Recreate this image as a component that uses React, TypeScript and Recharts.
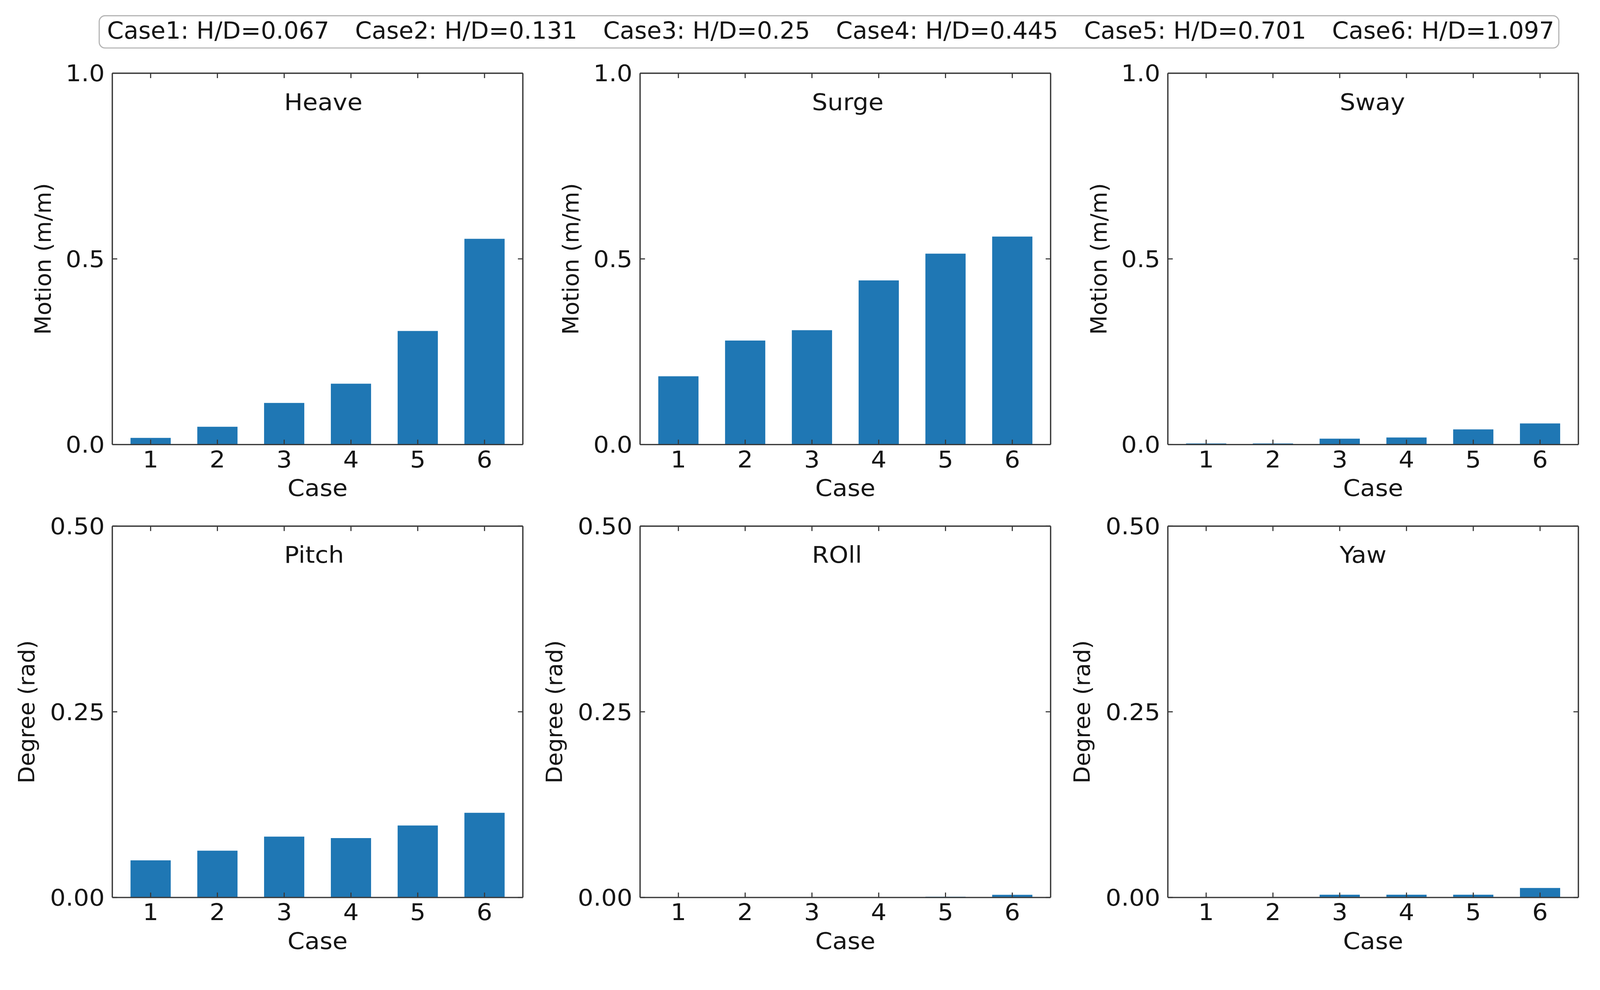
import React from 'react';
import { BarChart, Bar, XAxis, YAxis, Label } from 'recharts';

const cases = ['1', '2', '3', '4', '5', '6'];
const legendLabels = [
  'Case1: H/D=0.067',
  'Case2: H/D=0.131',
  'Case3: H/D=0.25',
  'Case4: H/D=0.445',
  'Case5: H/D=0.701',
  'Case6: H/D=1.097',
];

const heave = [0.018, 0.048, 0.112, 0.164, 0.306, 0.554];
const surge = [0.184, 0.28, 0.308, 0.442, 0.514, 0.56];
const sway = [0.003, 0.003, 0.016, 0.019, 0.041, 0.057];
const pitch = [0.05, 0.063, 0.082, 0.08, 0.097, 0.114];
const roll = [0.0002, 0.0002, 0.0003, 0.0005, 0.001, 0.0036];
const yaw = [0.0005, 0.0005, 0.0037, 0.0037, 0.0037, 0.0128];

const motionTicks = [0, 0.5, 1.0];
const motionTickLabels = ['0.0', '0.5', '1.0'];
const degreeTicks = [0, 0.25, 0.5];
const degreeTickLabels = ['0.00', '0.25', '0.50'];

const yLabelMotion = 'Motion (m/m)';
const yLabelDegree = 'Degree (rad)';
const xLabel = 'Case';

// layout (target pixels)
const W = 4217;
const H = 2535;
const PW = 1082;
const PH = 979;
const ML = 290;
const MT = 40;
const MR = 10;
const XH = 180;
const PAD = 13;
const BAND = (PW - 2 * PAD) / 6;
const FONT = 'DejaVu Sans, Verdana, sans-serif';
const FS = 60;
const SX = 1.08;
const FS_YLABEL = 59;
const FS_LEGEND = 63;
const TXT = '#151515';
const SPINE = '#3a3a3a';
const SW = 3.5;
const TL = 13;

function HText({ x, y, anchor, dy, children }: { x: number; y: number; anchor: string; dy?: string; children: any }) {
  return (
    <text
      transform={`translate(${x} ${y}) scale(${SX} 1)`}
      x={0}
      y={0}
      dy={dy}
      textAnchor={anchor as any}
      fontFamily={FONT}
      fontSize={FS}
      fill={TXT}
    >
      {children}
    </text>
  );
}

type PanelProps = {
  values: number[];
  title: string;
  ticks: number[];
  tickLabels: string[];
  yLabel: string;
  yLabelOffset: number;
  left: number;
  top: number;
};

function Panel({ values, title, ticks, tickLabels, yLabel, yLabelOffset, left, top }: PanelProps) {
  const data = cases.map((c, i) => ({ case: c, value: values[i] }));
  const domainMax = ticks[ticks.length - 1];

  const bottomTick = (p: any) => {
    const { x, y, payload } = p;
    return (
      <g>
        <line x1={x} x2={x} y1={y} y2={y - TL} stroke={SPINE} strokeWidth={3} />
        <HText x={x} y={y + 60} anchor="middle">
          {payload.value}
        </HText>
      </g>
    );
  };
  const topTick = (p: any) => {
    const { x, y } = p;
    return <line x1={x} x2={x} y1={y} y2={y + TL} stroke={SPINE} strokeWidth={3} />;
  };
  const leftTick = (p: any) => {
    const { x, y, index } = p;
    return (
      <g>
        <line x1={x} x2={x + TL} y1={y} y2={y} stroke={SPINE} strokeWidth={3} />
        <HText x={x - 20} y={y} dy="0.36em" anchor="end">
          {tickLabels[index]}
        </HText>
      </g>
    );
  };
  const rightTick = (p: any) => {
    const { x, y } = p;
    return <line x1={x} x2={x - TL} y1={y} y2={y} stroke={SPINE} strokeWidth={3} />;
  };

  const cy = MT + PH / 2;
  const cx = ML - yLabelOffset;

  return (
    <div style={{ position: 'absolute', left, top }}>
      <BarChart
        width={ML + PW + MR}
        height={MT + PH + XH}
        data={data}
        margin={{ top: MT - 1, right: MR - 1, left: 0, bottom: 0 }}
      >
        <XAxis
          dataKey="case"
          height={XH}
          interval={0}
          tickSize={0}
          tickMargin={0}
          tickLine={false}
          tick={bottomTick}
          padding={{ left: PAD, right: PAD }}
          axisLine={{ stroke: SPINE, strokeWidth: SW }}
        >
          <Label
            content={() => (
              <HText x={ML + PW / 2} y={MT + PH + 136} anchor="middle">
                {xLabel}
              </HText>
            )}
          />
        </XAxis>
        <XAxis
          xAxisId="top"
          orientation="top"
          dataKey="case"
          height={1}
          interval={0}
          tickSize={0}
          tickMargin={0}
          tickLine={false}
          tick={topTick}
          padding={{ left: PAD, right: PAD }}
          axisLine={{ stroke: SPINE, strokeWidth: SW }}
        >
          <Label
            content={() => (
              <HText x={ML + PAD + 2.5 * BAND} y={MT + 97} anchor="start">
                {title}
              </HText>
            )}
          />
        </XAxis>
        <YAxis
          width={ML}
          type="number"
          domain={[0, domainMax]}
          allowDataOverflow
          ticks={ticks}
          interval={0}
          tickSize={0}
          tickMargin={0}
          tickLine={false}
          tick={leftTick}
          axisLine={{ stroke: SPINE, strokeWidth: SW }}
        >
          <Label
            content={() => (
              <text
                x={cx}
                y={cy}
                dy="0.36em"
                transform={`rotate(-90 ${cx} ${cy})`}
                textAnchor="middle"
                fontFamily={FONT}
                fontSize={FS_YLABEL}
                fill={TXT}
              >
                {yLabel}
              </text>
            )}
          />
        </YAxis>
        <YAxis
          yAxisId="right"
          orientation="right"
          width={1}
          type="number"
          domain={[0, domainMax]}
          allowDataOverflow
          ticks={ticks}
          interval={0}
          tickSize={0}
          tickMargin={0}
          tickLine={false}
          tick={rightTick}
          axisLine={{ stroke: SPINE, strokeWidth: SW }}
        />
        <Bar dataKey="value" fill="#1f77b4" barSize={106} isAnimationActive={false} />
      </BarChart>
    </div>
  );
}

const colLefts = [296, 1687, 3078];
const rowTops = [193, 1387];

export default function App() {
  const vw = typeof window !== 'undefined' ? window.innerWidth : W;
  const s = vw > 0 && vw < W ? vw / W : 1;
  const top = [
    { values: heave, title: 'Heave' },
    { values: surge, title: 'Surge' },
    { values: sway, title: 'Sway' },
  ];
  const bottom = [
    { values: pitch, title: 'Pitch' },
    { values: roll, title: 'ROll' },
    { values: yaw, title: 'Yaw' },
  ];
  return (
    <div
      style={{
        position: 'absolute',
        left: 0,
        top: 0,
        width: W * s,
        height: H * s,
        overflow: 'hidden',
        background: '#fff',
      }}
    >
      <div
        style={{
          position: 'absolute',
          left: 0,
          top: 0,
          width: W,
          height: H,
          transform: `scale(${s})`,
          transformOrigin: '0 0',
          background: '#fff',
        }}
      >
        <div
          style={{
            position: 'absolute',
            left: 260,
            top: 40,
            width: 4110 - 260,
            height: 128 - 40,
            boxSizing: 'border-box',
            border: '3px solid #b4b4b4',
            borderRadius: 17,
            display: 'flex',
            alignItems: 'center',
            paddingLeft: 19,
            paddingBottom: 8,
            gap: 68,
            fontFamily: FONT,
            fontSize: FS_LEGEND,
            color: TXT,
            whiteSpace: 'nowrap',
          }}
        >
          {legendLabels.map((l) => (
            <span key={l}>{l}</span>
          ))}
        </div>
        {top.map((p, i) => (
          <Panel
            key={p.title}
            values={p.values}
            title={p.title}
            ticks={motionTicks}
            tickLabels={motionTickLabels}
            yLabel={yLabelMotion}
            yLabelOffset={183}
            left={colLefts[i] - ML}
            top={rowTops[0] - MT}
          />
        ))}
        {bottom.map((p, i) => (
          <Panel
            key={p.title}
            values={p.values}
            title={p.title}
            ticks={degreeTicks}
            tickLabels={degreeTickLabels}
            yLabel={yLabelDegree}
            yLabelOffset={227}
            left={colLefts[i] - ML}
            top={rowTops[1] - MT}
          />
        ))}
      </div>
    </div>
  );
}
